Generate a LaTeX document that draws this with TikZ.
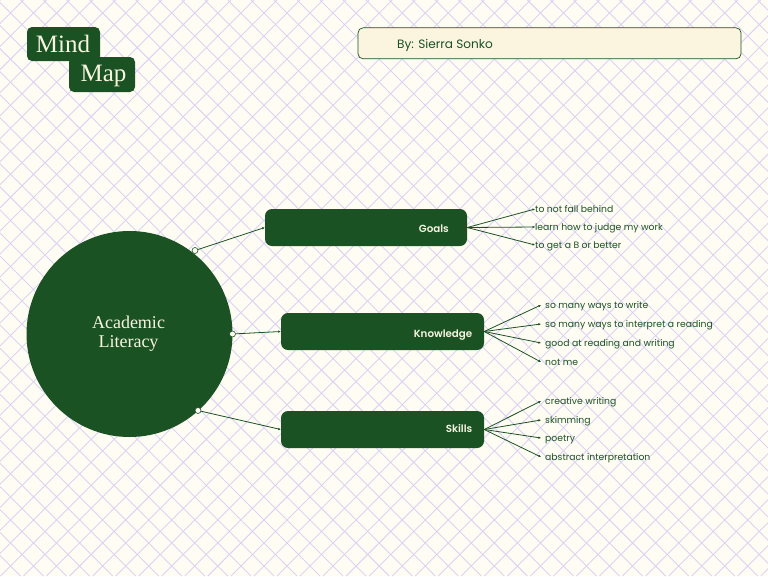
\documentclass[tikz,border=0pt]{standalone}
\usepackage{fontspec}
\setmainfont{Poppins}
\newfontfamily\titlefont{Liberation Serif}
\newfontfamily\labelfont{Poppins SemiBold}
\definecolor{forest}{HTML}{1A5223}
\definecolor{paper}{HTML}{FFFDF3}
\definecolor{gridline}{HTML}{DCD2F5}
\definecolor{banner}{HTML}{FBF5DF}
\definecolor{cream}{HTML}{F7F5E0}
\usetikzlibrary{arrows.meta}
\tikzset{
  px/.style={x=1pt,y=-1pt},
  topicbox/.style={fill=forest,rounded corners=7pt,minimum height=37pt,inner sep=0pt},
  topiclabel/.style={anchor=base east,text=cream,inner sep=0pt,font=\labelfont\fontsize{10.3}{12}\selectfont},
  titlebox/.style={fill=forest,rounded corners=5pt,inner sep=0pt},
  titletext/.style={anchor=base,text=cream,inner sep=0pt,font=\titlefont\fontsize{25}{30}\selectfont},
  hub/.style={circle,fill=forest,minimum size=206pt,inner sep=0pt},
  hubtext/.style={text=cream,align=center,inner sep=0pt,font=\titlefont\fontsize{18}{19}\selectfont},
  dot/.style={circle,draw=forest,fill=paper,line width=.6pt,minimum size=6pt,inner sep=0pt},
  link/.style={draw=forest,line width=.8pt,-{Latex[length=2.5pt,width=2.5pt]}},
  leaf/.style={anchor=west,text=forest,inner ysep=0pt,text height=9pt,text depth=2pt,font=\fontsize{9.25}{10}\selectfont},
  gridstroke/.style={gridline,line width=.9pt},
}
\begin{document}
\begin{tikzpicture}[px]
\useasboundingbox (0,0) rectangle (768,576);
\fill[paper] (0,0) rectangle (768,576);
\begin{scope}
\clip (0,0) rectangle (768,576);
\foreach \k in {0,...,59}{
  \draw[gridstroke] ({0.5+23.04*\k},0) -- ({0.5+23.04*\k-576},576);
}
\foreach \k in {-26,...,33}{
  \draw[gridstroke] ({20.5+23.04*\k},0) -- ({20.5+23.04*\k+576},576);
}
\end{scope}

\node[titlebox,minimum width=73pt,minimum height=34pt] (mind) at (63.5,44) {};
\node[titlebox,minimum width=66pt,minimum height=35pt] (map) at (102,74.5) {};
\node[titletext] (mindtext) at (63,52) {Mind};
\node[titletext] (maptext) at (103.5,81.5) {Map};

\node[draw=forest,fill=banner,rounded corners=5pt,line width=.7pt,minimum width=383pt,minimum height=31pt,anchor=west,inner sep=0pt] (byline) at (357.7,43.3) {};
\node[anchor=west,text=forest,inner sep=0pt,font=\fontsize{12.1}{14}\selectfont] (bytext) at (397,45.5) {By: Sierra Sonko};

\node[hub] (hub) at (129.5,334) {};
\node[hubtext] (hubtext) at (128.5,333.5) {Academic\\Literacy};

\node[topicbox,minimum width=202pt] (goals) at (366,227.5) {};
\node[topicbox,minimum width=203pt] (know) at (382.5,331.5) {};
\node[topicbox,minimum width=203pt] (skills) at (382.5,429.5) {};
\node[topiclabel] (goalslabel) at (449,232) {Goals};
\node[topiclabel] (knowlabel) at (472.5,337) {Knowledge};
\node[topiclabel] (skillslabel) at (472.5,432) {Skills};

\node[dot] (d1) at (195,250.5) {};
\node[dot] (d2) at (232.5,334) {};
\node[dot] (d3) at (198,410.5) {};
\path[link] (d1) -- (goals.west);
\path[link] (d2) -- (know.west);
\path[link] (d3) -- (skills.west);

\begin{scope}[leaf/.append style={inner xsep=0pt}]
\node[leaf] (g1) at (535,209) {to not fall behind};
\node[leaf] (g2) at (535,227) {learn how to judge my work};
\node[leaf] (g3) at (535,245) {to get a B or better};
\end{scope}
\begin{scope}[leaf/.append style={inner xsep=4pt}]
\node[leaf] (k1) at (541,305) {so many ways to write};
\node[leaf] (k2) at (541,324) {so many ways to interpret a reading};
\node[leaf] (k3) at (541,343) {good at reading and writing};
\node[leaf] (k4) at (541,362) {not me};
\node[leaf] (s1) at (541,401) {creative writing};
\node[leaf] (s2) at (541,420) {skimming};
\node[leaf] (s3) at (541,438) {poetry};
\node[leaf] (s4) at (541,457) {abstract interpretation};
\end{scope}
\foreach \a in {g1,g2,g3}{\path[link] (goals.east) -- (\a.west);}
\foreach \a in {k1,k2,k3,k4}{\path[link] (know.east) -- (\a.west);}
\foreach \a in {s1,s2,s3,s4}{\path[link] (skills.east) -- (\a.west);}
\end{tikzpicture}
\end{document}
